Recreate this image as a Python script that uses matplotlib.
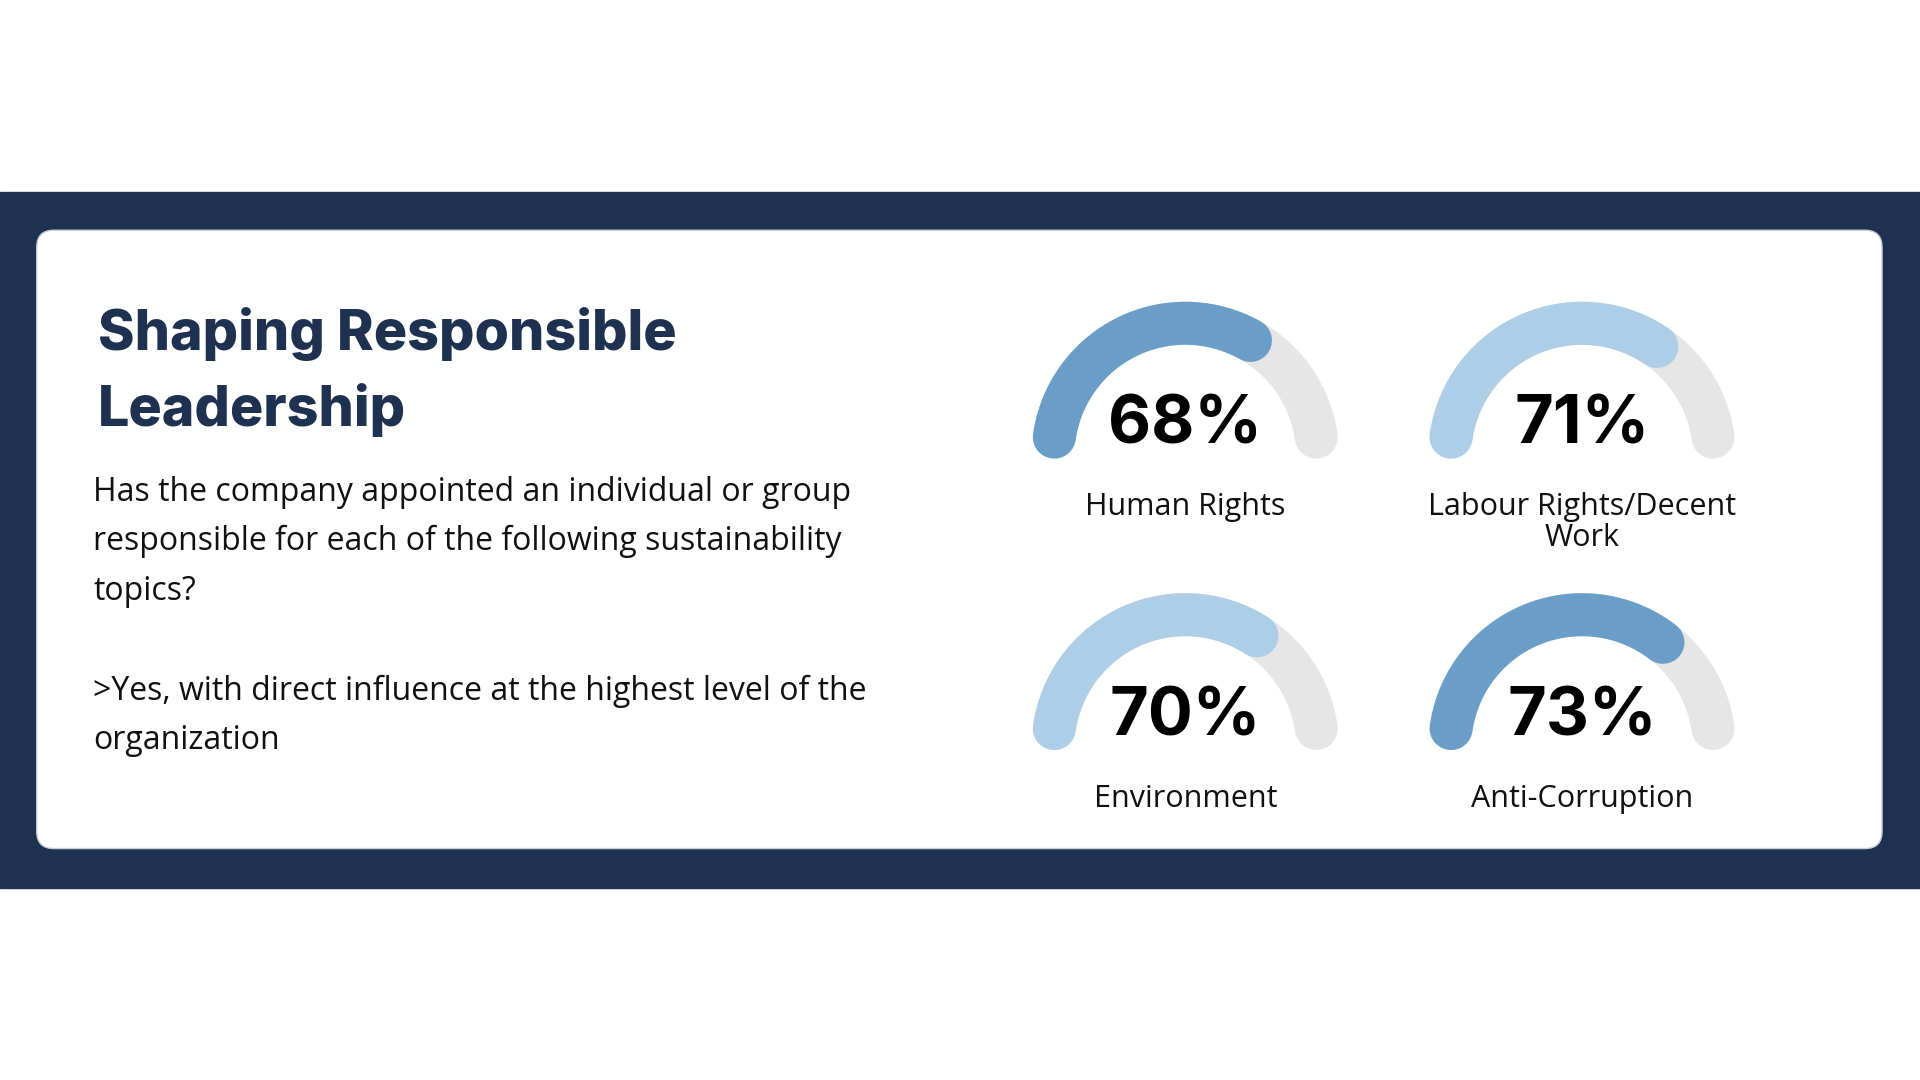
import numpy as np
import matplotlib
matplotlib.use('Agg')
import matplotlib.pyplot as plt
from matplotlib.patches import Rectangle, FancyBboxPatch

# gauge data
topics = ['Human Rights', 'Labour Rights/Decent\nWork', 'Environment', 'Anti-Corruption']
values = [68, 71, 70, 73]
colors = ['#6a9ec9', '#aecde6', '#aecde6', '#6a9ec9']

NAVY = '#1f3150'
GREY = '#e6e6e6'

W, H = 1568, 882
fig = plt.figure(figsize=(19.2, 10.8), dpi=100)
ax = fig.add_axes([0, 0, 1, 1])
ax.set_xlim(0, W)
ax.set_ylim(H, 0)
ax.axis('off')

ax.add_patch(Rectangle((0, 157), W, 568, color=NAVY, zorder=0))
ax.add_patch(FancyBboxPatch((30, 188), 1507, 505, boxstyle='round,pad=0,rounding_size=14',
                            facecolor='white', edgecolor='#c8ccd4', lw=1, zorder=1))

font = 'Open Sans'
tfont = 'Inter'
ax.text(80, 273, 'Shaping Responsible', fontsize=40, fontweight='heavy', color=NAVY,
        family=tfont, va='center', ha='left')
ax.text(80, 335, 'Leadership', fontsize=40, fontweight='heavy', color=NAVY,
        family=tfont, va='center', ha='left')
body = ['Has the company appointed an individual or group',
        'responsible for each of the following sustainability',
        'topics?']
for i, line in enumerate(body):
    ax.text(76, 402 + i * 40.5, line, fontsize=23, color='#111111', family=font, va='center')
ax.text(76, 565, '>Yes, with direct influence at the highest level of the', fontsize=23,
        color='#111111', family=font, va='center')
ax.text(76, 605, 'organization', fontsize=23, color='#111111', family=font, va='center')

centers = [(968, 372), (1292, 372), (968, 610), (1292, 610)]
r = 108
a0, a1 = 172, 8
lw = 31
for (cx, cy), v, c, t in zip(centers, values, colors, topics):
    th = np.radians(np.linspace(a0, a1, 200))
    ax.plot(cx + r * np.cos(th), cy - r * np.sin(th), color=GREY, lw=lw,
            solid_capstyle='round', zorder=2)
    aend = a0 - v / 100 * (a0 - a1)
    th = np.radians(np.linspace(a0, aend, 200))
    ax.plot(cx + r * np.cos(th), cy - r * np.sin(th), color=c, lw=lw,
            solid_capstyle='round', zorder=3)
    ax.text(cx, cy - 24, '{}%'.format(v), fontsize=48, fontweight='bold', color='black',
            family=tfont, ha='center', va='center', zorder=4)
    ax.text(cx, cy + 30, t, fontsize=22, color='#111111', family=font, ha='center',
            va='top', linespacing=1.05, zorder=4)

fig.savefig('out.png', dpi=100, facecolor='white')
